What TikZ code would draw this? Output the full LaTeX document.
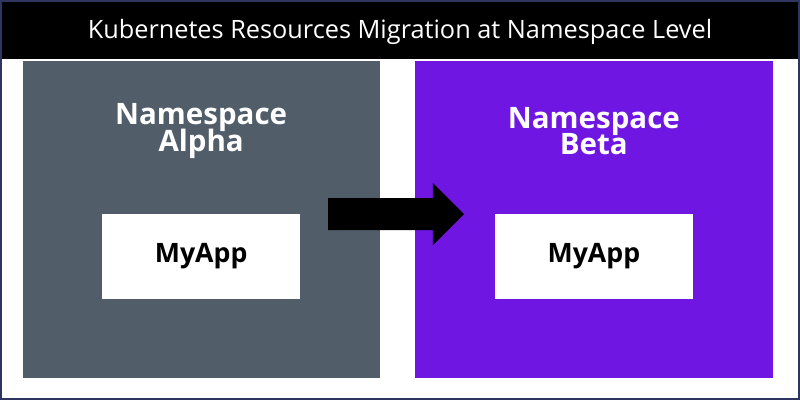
\documentclass[tikz,border=0pt]{standalone}
\usepackage{fontspec}
\setmainfont{Open Sans}
\definecolor{nsgray}{HTML}{515E69}
\definecolor{nspurple}{HTML}{6F16E3}
\definecolor{frame}{HTML}{2E3560}
\begin{document}
\begin{tikzpicture}[x=0.025cm, y=-0.025cm]
	\tikzstyle{every node}=[inner sep=0pt, align=center]
	\tikzstyle{nsbox}=[draw=none, minimum width=358*0.025cm, minimum height=318*0.025cm, anchor=north west]
	\tikzstyle{appbox}=[fill=white, minimum width=198*0.025cm, minimum height=85*0.025cm, font=\fontsize{19}{22}\selectfont\bfseries]
	\tikzstyle{nslabel}=[text=white, font=\fontsize{21}{22}\selectfont\bfseries]
	\fill[white] (0, 0) rectangle (800, 400);
	\fill[black] (0, 0) rectangle (800, 59);
	\node[text=white, font=\fontsize{18}{20}\selectfont] (title) at (400, 32) {Kubernetes Resources Migration at Namespace Level};
	\node[nsbox, fill=nsgray] (alpha) at (22, 60) {};
	\node[nsbox, fill=nspurple] (beta) at (415, 60) {};
	\node[nslabel] (alphalabel) at (201, 131) {Namespace\\[-3pt]Alpha};
	\node[nslabel] (betalabel) at (594, 131) {Namespace\\[-3pt]Beta};
	\node[appbox] (appA) at (201, 256) {MyApp};
	\node[appbox] (appB) at (594, 256) {MyApp};
	\fill[black] (328, 198) -- (433, 198) -- (433, 183) -- (464, 214) -- (433, 245) -- (433, 230) -- (328, 230) -- cycle;
	\draw[frame, line width=1.5pt] (0.75, 0.75) rectangle (799.25, 399.25);
\end{tikzpicture}
\end{document}
